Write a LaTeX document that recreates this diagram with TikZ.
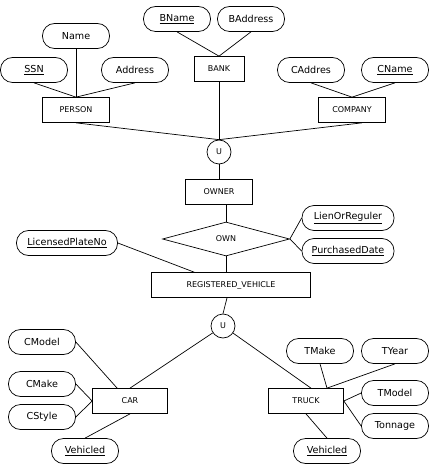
\documentclass[tikz,border=0pt]{standalone}
\usepackage{fontspec}
\setmainfont{DejaVu Sans}
\usetikzlibrary{shapes.geometric}
\usetikzlibrary{positioning}

\begin{document}
\begin{tikzpicture}[x=1pt,y=-1pt,line width=0.7pt,
	entity/.style={rectangle,draw,minimum width=67pt,minimum height=25pt,
		inner sep=1pt,font=\fontsize{8}{9}\selectfont},
	attr/.style={rectangle,draw,rounded corners=12pt,minimum width=67pt,
		minimum height=25pt,inner sep=1pt,font=\fontsize{9.6}{11}\selectfont},
	rel/.style={diamond,draw,aspect=3.7,minimum width=127pt,minimum height=34pt,
		inner sep=0pt,font=\fontsize{8}{9}\selectfont},
	union/.style={circle,draw,minimum size=24pt,inner sep=0pt,
		font=\fontsize{8}{9}\selectfont}]
	\useasboundingbox (0,0) rectangle (433,470);
	
	% owners
	\node[attr] (name) at (76,36) {Name};
	\node[attr] (ssn) at (34,70) {\underline{SSN}};
	\node[attr] (address) at (135,70) {Address};
	\node[entity] (person) at (76,110) {PERSON};
	\node[attr] (bname) at (177,19) {\underline{BName}};
	\node[attr] (baddress) at (251,19) {BAddress};
	\node[entity,minimum width=50pt] (bank) at (219,69) {BANK};
	\node[attr] (caddres) at (311,70) {CAddres};
	\node[attr] (cname) at (395,70) {\underline{CName}};
	\node[entity] (company) at (352,110) {COMPANY};
	\node[union] (u1) at (219,152) {U};
	\node[entity] (owner) at (219,192) {OWNER};
	
	% relationship
	\node[rel] (own) at (226,239) {OWN};
	\node[attr,minimum width=92pt] (lien) at (348,218) {\underline{LienOrReguler}};
	\node[attr,minimum width=92pt] (purchased) at (348,251) {\underline{PurchasedDate}};
	\node[attr,minimum width=101pt] (plate) at (67,243) {\underline{LicensedPlateNo}};
	\node[entity,minimum width=159pt] (regv) at (231,285) {REGISTERED\_VEHICLE};
	\node[union] (u2) at (223,326) {U};
	
	% vehicles
	\node[attr] (cmodel) at (42,342) {CModel};
	\node[attr] (cmake) at (42,384) {CMake};
	\node[attr] (cstyle) at (42,417) {CStyle};
	\node[entity,minimum width=75pt] (car) at (130,401) {CAR};
	\node[attr] (vid1) at (85,451) {\underline{Vehicled}};
	\node[attr] (tmake) at (320,351) {TMake};
	\node[attr] (tyear) at (395,351) {TYear};
	\node[entity,minimum width=75pt] (truck) at (306,401) {TRUCK};
	\node[attr] (tmodel) at (395,393) {TModel};
	\node[attr] (tonnage) at (395,426) {Tonnage};
	\node[attr] (vid2) at (327,451) {\underline{Vehicled}};
	
	\path
	(name) edge (person)
	(ssn.south) edge (person.north)
	(address.south) edge (person.north)
	(bname.south) edge (bank.north)
	(baddress.south) edge (bank.north)
	(caddres.south) edge (company.north)
	(cname.south) edge (company.north)
	(person.south) edge (u1.north)
	(bank.south) edge (u1.north)
	([xshift=10pt]company.south) edge (u1.north)
	(u1) edge (owner)
	(own.north |- owner.south) edge (own.north)
	(own.east) edge (lien.west)
	(own.east) edge (purchased.west)
	(own.south) edge (own.south |- regv.north)
	(plate.east) edge ([xshift=43pt]regv.north west)
	([xshift=-4pt]regv.south) edge (u2.north)
	(u2) edge (car.north)
	(u2) edge ([xshift=5pt]truck.north)
	(cmodel.east) edge ([xshift=25pt]car.north west)
	(cmake.east) edge (car.west)
	(cstyle.east) edge (car.west)
	(car.south) edge (vid1.north)
	(tmake.south) edge ([xshift=21pt]truck.north)
	(tyear.south) edge ([xshift=21pt]truck.north)
	(tmodel.west) edge (truck.east)
	(tonnage.west) edge (truck.east)
	(truck.south) edge (vid2.north);
\end{tikzpicture}
\end{document}
